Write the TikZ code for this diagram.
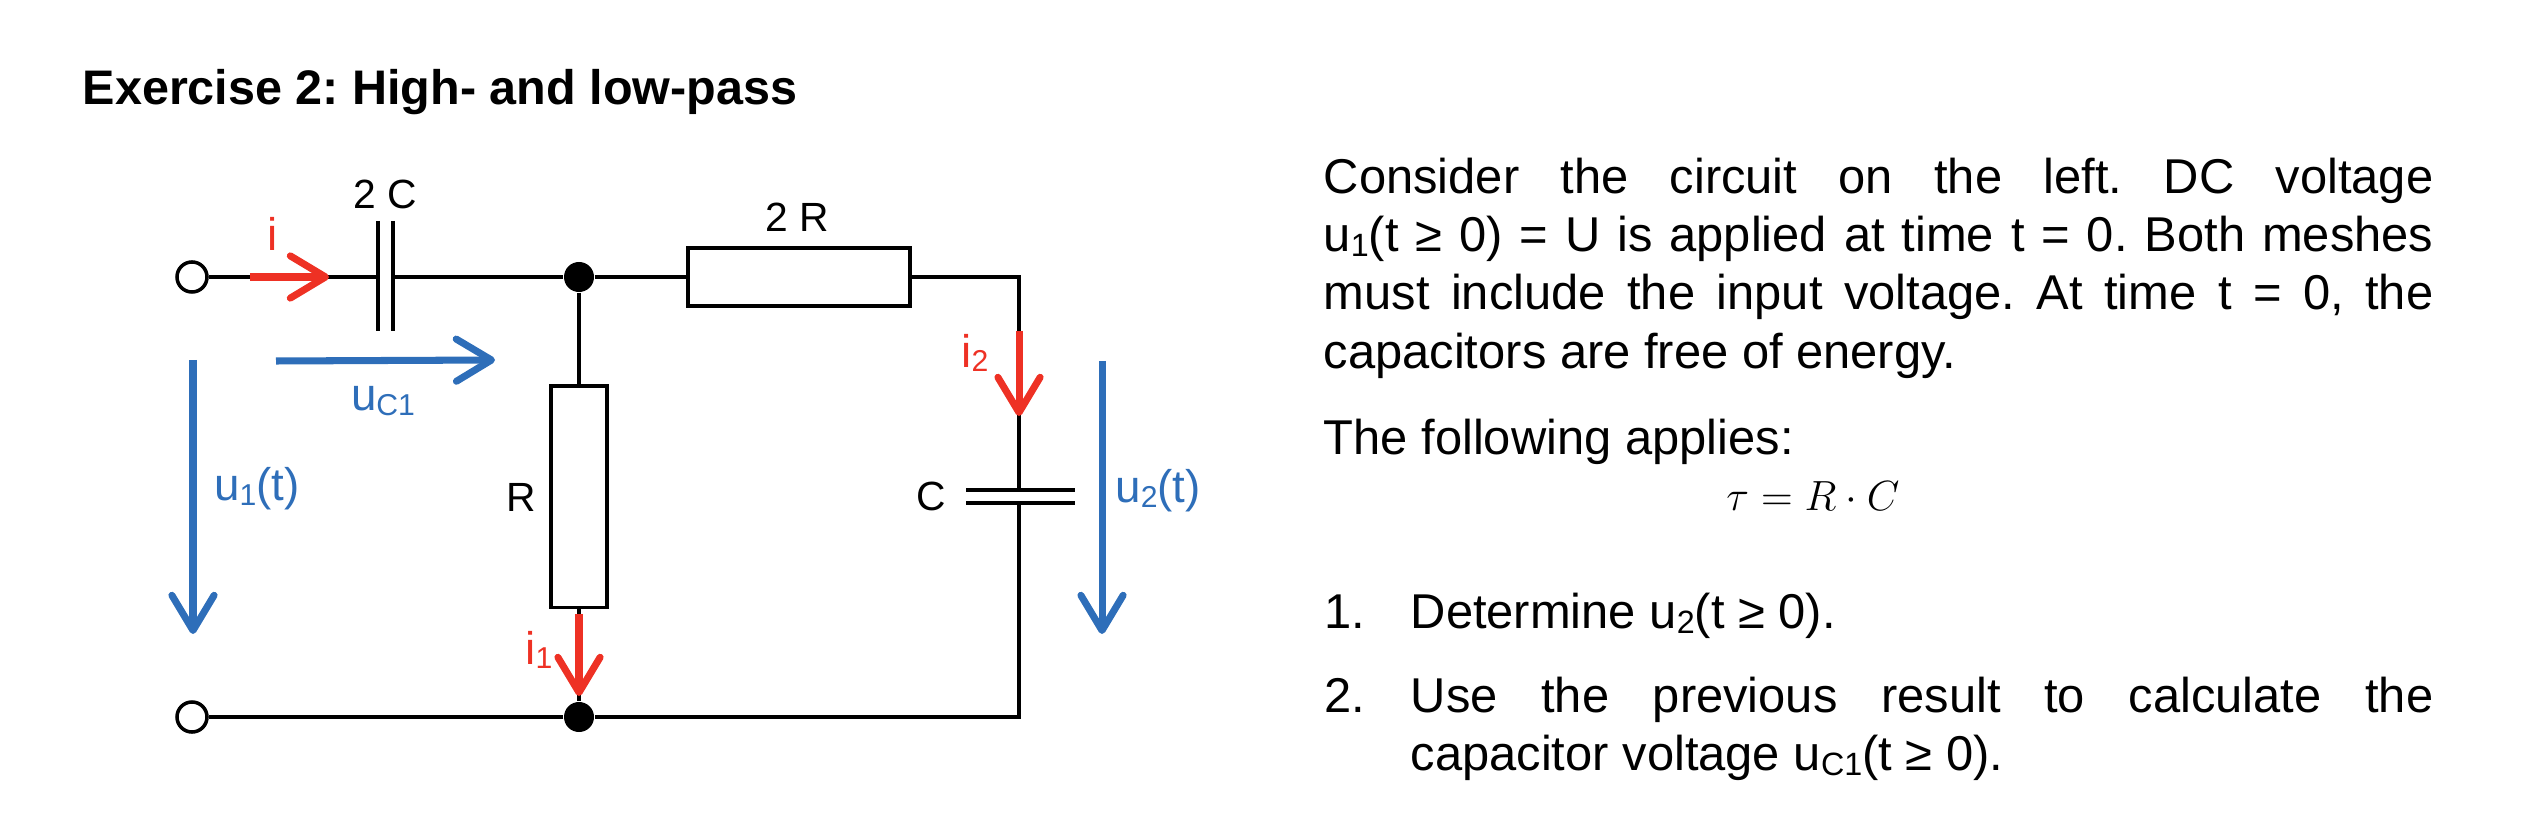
\documentclass[tikz,border=0pt]{standalone}
\usepackage{fontspec}
\setmainfont{Liberation Sans}
\usetikzlibrary {arrows.meta, positioning}
\definecolor{wineblue}{RGB}{46,110,185}
\definecolor{winered}{RGB}{238,49,36}
\newcommand{\lowidx}[1]{\raisebox{-.2ex}{\scalebox{.66}{#1}}}
\frenchspacing
\tikzset{
	wire/.style={line width=.9pt},
	plate/.style={line width=1.1pt},
	resistor/.style={draw, line width=1.1pt, fill=white, inner sep=0pt},
	terminal/.style={draw, circle, line width=1pt, fill=white, inner sep=0pt, minimum size=.3cm},
	junction/.style={fill=black, circle, inner sep=0pt, minimum size=.3cm},
	voltage/.style={wineblue, line width=2pt, -{Straight Barb[round, length=10pt, width=12pt]}},
	current/.style={winered, line width=2pt, -{Straight Barb[round, length=10pt, width=12pt]}},
	label/.style={inner sep=0pt, font=\fontsize{11.6}{14}\selectfont},
	bluelabel/.style={label, text=wineblue, font=\fontsize{13}{15}\selectfont},
	redlabel/.style={label, text=winered, font=\fontsize{13}{15}\selectfont},
	body/.style={inner sep=0pt, anchor=base west, font=\fontsize{13.9}{16.6}\selectfont},
}
\begin{document}
\begin{tikzpicture}[x=.01cm, y=-.01cm]
	\useasboundingbox (0,0) rectangle (2546,834);

	\node[body, font=\fontsize{13.8}{16.6}\selectfont\bfseries] (title) at (82,105) {Exercise 2: High- and low-pass};

	% circuit
	\node[terminal] (intop) at (192,277) {};
	\node[terminal] (inbot) at (192,717) {};
	\node[junction] (jtop) at (579,277) {};
	\node[junction] (jbot) at (579,717) {};
	\node[resistor, minimum width=2.22cm, minimum height=.575cm] (rtwo) at (799,277) {};
	\node[resistor, minimum width=.56cm, minimum height=2.21cm] (rone) at (579,497) {};
	\coordinate (corner) at (1019,277);
	\coordinate (cornerb) at (1019,717);

	\coordinate (ctwol) at (378,277);
	\coordinate (ctwor) at (393,277);
	\coordinate (coneu) at (1019,490);
	\coordinate (coned) at (1019,503);

	\draw[wire] (intop) -- (ctwol);
	\draw[wire] (ctwor) -- (jtop) -- (rtwo) -- (corner) -- (coneu);
	\draw[wire] (coned) -- (cornerb) -- (jbot) -- (inbot);
	\draw[wire] (jtop) -- (rone) -- (jbot);

	\draw[plate] (ctwol) ++(0,-56) -- ++(0,110);
	\draw[plate] (ctwor) ++(0,-56) -- ++(0,110);
	\draw[plate] (coneu) ++(-53,0) -- ++(109,0);
	\draw[plate] (coned) ++(-53,0) -- ++(109,0);

	% arrows
	\coordinate (ia) at (250,277);
	\coordinate (ib) at (329,277);
	\coordinate (ionea) at (579,614);
	\coordinate (ioneb) at (579,696);
	\coordinate (itwoa) at (1019,331);
	\coordinate (itwob) at (1019,416);
	\draw[current] (ia) -- (ib);
	\draw[current] (ionea) -- (ioneb);
	\draw[current] (itwoa) -- (itwob);

	\coordinate (uonea) at (193,360);
	\coordinate (uoneb) at (193,634);
	\coordinate (utwoa) at (1102,361);
	\coordinate (utwob) at (1102,634);
	\coordinate (uca) at (276,361);
	\coordinate (ucb) at (495,360);
	\draw[voltage] (uonea) -- (uoneb);
	\draw[voltage] (utwoa) -- (utwob);
	\draw[voltage] (uca) -- (ucb);

	% labels
	\node[label] (lctwo) at (385,194) {2 C};
	\node[label] (lrtwo) at (797,217) {2 R};
	\node[label] (lrone) at (521,497) {R};
	\node[label] (lcone) at (931,496) {C};
	\node[redlabel] (li) at (273,234) {i};
	\node[redlabel] (lione) at (539,650) {i\lowidx{1}};
	\node[redlabel] (litwo) at (975,353) {i\lowidx{2}};
	\node[bluelabel] (luc) at (383,401) {u\lowidx{C1}};
	\node[bluelabel] (luone) at (257,489) {u\lowidx{1}(t)};
	\node[bluelabel] (lutwo) at (1158,491) {u\lowidx{2}(t)};

	% text
	\node[body, text width=11.09cm, align=justify, anchor=north west] (para) at (1323,157)
		{Consider the circuit on the left. DC voltage\linebreak
		u\lowidx{1}(t ≥ 0) = U is applied at time t = 0. Both meshes\linebreak
		must include the input voltage. At time t = 0, the\linebreak
		capacitors are free of energy.};
	\node[body] (applies) at (1323,455) {The following applies:};
	\node[body, anchor=base, font=\fontsize{12.6}{15}\selectfont] (tau) at (1813,511) {$\tau = R \cdot C$};
	\node[body] (numone) at (1324,628) {1.};
	\node[body] (itemone) at (1410,628) {Determine u\lowidx{2}(t ≥ 0).};
	\node[body] (numtwo) at (1324,712) {2.};
	\node[body, text width=10.22cm, align=justify, anchor=north west] (itemtwo) at (1410,676)
		{Use the previous result to calculate the\linebreak
		capacitor voltage u\lowidx{C1}(t ≥ 0).};
\end{tikzpicture}
\end{document}
